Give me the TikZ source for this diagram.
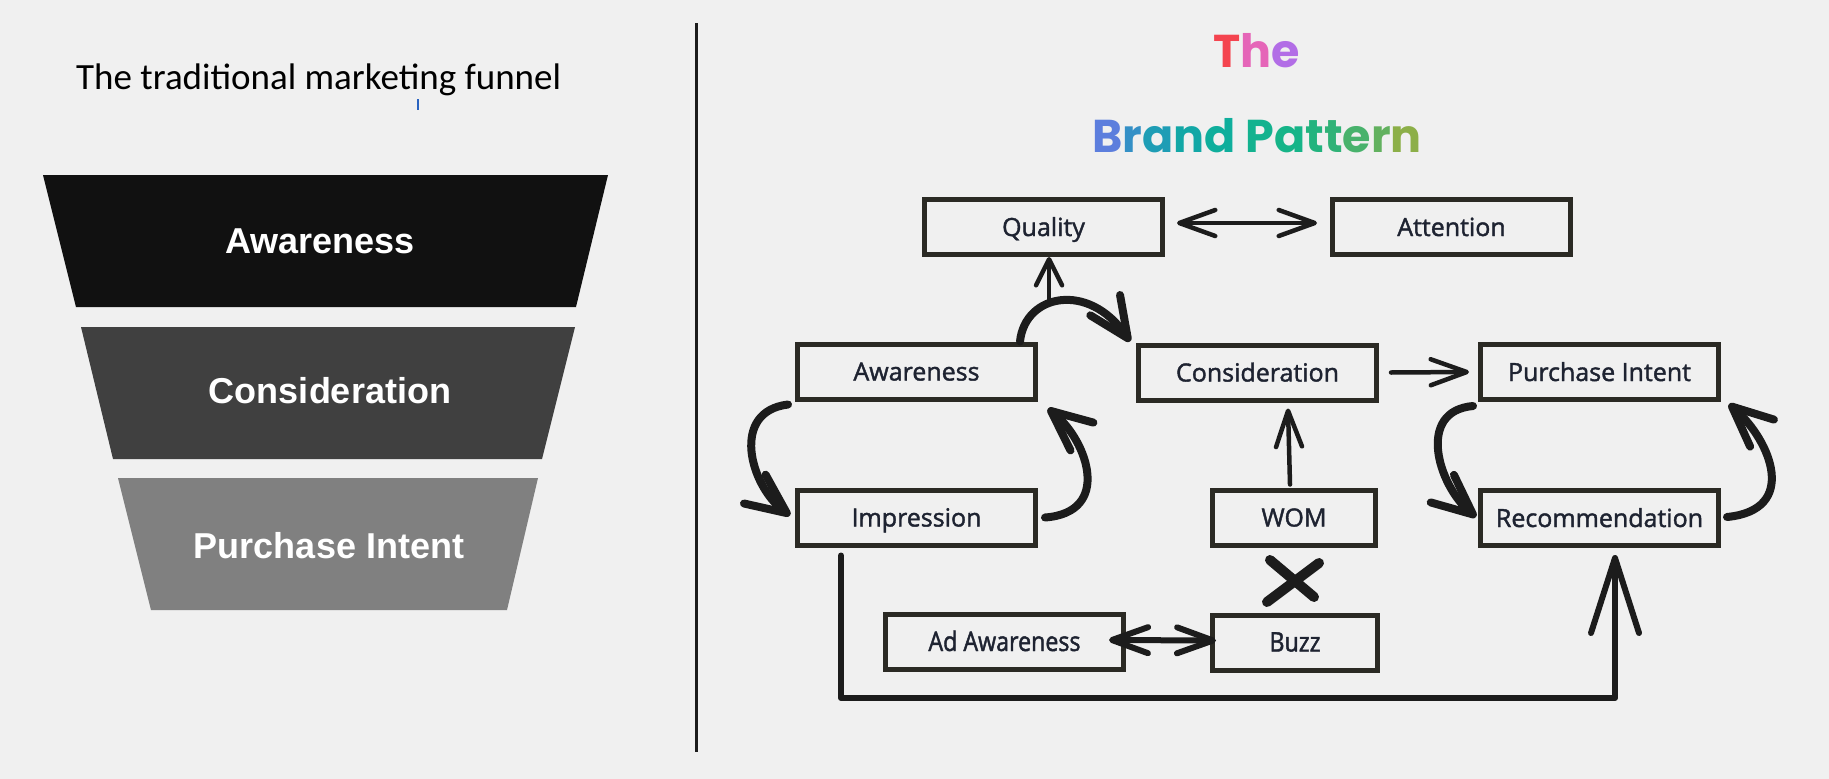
\documentclass[tikz,border=0pt]{standalone}
\usepackage{fontspec}
\usetikzlibrary{arrows.meta,calc}

\newfontfamily\funnelhead{Carlito}
\newfontfamily\funnellbl{Liberation Sans}
\newfontfamily\brandfont{Poppins}
\newfontfamily\boxfont{Open Sans}[FakeBold=1.6]
\newfontfamily\narrowbox{Open Sans}[FakeStretch=0.86,FakeBold=1.6]

\definecolor{paper}{HTML}{F0F0F0}
\definecolor{ink}{HTML}{1C1C1C}
\definecolor{boxline}{HTML}{2B2A24}
\definecolor{lbl}{HTML}{1E2331}
\definecolor{tierA}{HTML}{111111}
\definecolor{tierB}{HTML}{404040}
\definecolor{tierC}{HTML}{808080}
\definecolor{cursor}{HTML}{2A63C0}
% letter colours of the heading
\definecolor{tA}{HTML}{F4444F}
\definecolor{tB}{HTML}{E565B8}
\definecolor{tC}{HTML}{B26DE6}
\definecolor{bA}{HTML}{5C7EDD}
\definecolor{bB}{HTML}{3490C6}
\definecolor{bC}{HTML}{1E9DB5}
\definecolor{bD}{HTML}{12A7A6}
\definecolor{bE}{HTML}{0FAE9C}
\definecolor{bF}{HTML}{13B28F}
\definecolor{bG}{HTML}{16B488}
\definecolor{bH}{HTML}{22B37E}
\definecolor{bI}{HTML}{30B277}
\definecolor{bJ}{HTML}{48B26C}
\definecolor{bK}{HTML}{62B15F}
\definecolor{bL}{HTML}{8CAF48}

\tikzset{
  smallV/.tip={Straight Barb[length=36pt,width=26pt,round]},
  curlV/.tip={Straight Barb[length=40pt,width=36pt,round]},
  routeV/.tip={Straight Barb[length=75pt,width=48pt,round]},
  stage/.style={draw=boxline, line width=5pt, minimum width=238pt, minimum height=55pt,
    inner sep=0pt, text=lbl, text height=18pt, text depth=0pt,
    font={\boxfont\fontsize{25pt}{30pt}\selectfont}},
  narrowstage/.style={stage, font={\narrowbox\fontsize{27pt}{30pt}\selectfont}},
  tier/.style={text=white, text height=26pt, text depth=0pt,
    font={\funnellbl\bfseries\fontsize{36pt}{40pt}\selectfont}},
  flow/.style={draw=ink, line width=4.5pt, line cap=round, line join=round},
  curl/.style={draw=ink, line width=8pt, line cap=round, -{curlV}},
  route/.style={draw=ink, line width=6pt, line cap=round, line join=round, -{routeV}},
  cross/.style={draw=ink, line width=10pt, line cap=round},
}

\begin{document}
\begin{tikzpicture}[x=1pt,y=-1pt]
\fill[paper] (0,0) rectangle (1829,779);
\useasboundingbox (0,0) rectangle (1829,779);

% ---------- left half: the classic funnel ----------
\node[anchor=base west, inner sep=0pt, text=black,
      font={\funnelhead\fontsize{37pt}{40pt}\selectfont}] (funneltitle) at (76,89)
      {The traditional marketing funnel};
\draw[cursor, line width=1.5pt] (418,99) -- (418,110);

\fill[tierA] (43,175) -- (608,175) -- (576,307) -- (76,307) -- cycle;
\fill[tierB] (81,327) -- (575,327) -- (542,459) -- (113,459) -- cycle;
\fill[tierC] (118,478) -- (538,478) -- (507,610) -- (151,610) -- cycle;
\node[tier] (tierAware) at (320,240) {Awareness};
\node[tier] (tierConsider) at (330,390) {Consideration};
\node[tier] (tierIntent) at (329,545) {Purchase Intent};

% divider
\draw[ink, line width=3pt] (696,23) -- (696,752);

% ---------- right half: the brand pattern ----------
\node[anchor=base, inner sep=0pt, font={\brandfont\bfseries\fontsize{46pt}{50pt}\selectfont}]
  (headA) at (1257,67)
  {\textcolor{tA}{T}\textcolor{tB}{h}\textcolor{tC}{e}};
\node[anchor=base, inner sep=0pt, font={\brandfont\bfseries\fontsize{46pt}{50pt}\selectfont}]
  (headB) at (1257,152)
  {\textcolor{bA}{B}\textcolor{bB}{r}\textcolor{bC}{a}\textcolor{bD}{n}\textcolor{bE}{d}
   \textcolor{bF}{P}\textcolor{bG}{a}\textcolor{bH}{t}\textcolor{bI}{t}\textcolor{bJ}{e}\textcolor{bK}{r}\textcolor{bL}{n}};

\node[stage] (quality) at (1043.5,227) {Quality};
\node[stage] (attention) at (1451.5,227) {Attention};
\node[stage] (awareness) at (916.5,371.5) {Awareness};
\node[stage] (impression) at (916.5,517.5) {Impression};
\node[stage] (consideration) at (1257.5,372.5) {Consideration};
\node[stage] (purchase) at (1599.5,372) {Purchase Intent};
\node[stage] (recommendation) at (1599.5,518) {Recommendation};
\node[stage, minimum width=163pt] (wom) at (1294,517.5) {WOM};
\node[narrowstage] (adaw) at (1004.5,642) {Ad Awareness};
\node[narrowstage, minimum width=165pt] (buzz) at (1295,642.5) {Buzz};

% straight connectors
\draw[flow, {smallV}-{smallV}] ($(quality.east)+(12,-4)$) -- ($(attention.west)+(-13,-4)$);
\draw[flow, -{smallV}] ($(consideration.east)+(12,0)$) -- ($(purchase.west)+(-9,0)$);
\draw[flow, -{smallV}] ($(wom.north)+(-4,-3)$) -- ($(wom.north |- consideration.south)+(-6,6)$);
\draw[flow, line width=6pt, {smallV}-{smallV}] ($(adaw.east)+(-17,-2)$) -- ($(buzz.west)+(6,-2)$);

% loops between paired stages
\draw[curl] ($(awareness.south west)+(-7,3)$)
  .. controls ($(awareness.south west)+(-65,10)$) and ($(impression.west)+(-45,-32)$)
  .. ($(impression.west)+(-5,-2)$);
\draw[curl] ($(impression.east)+(7,0)$)
  .. controls ($(impression.east)+(74,-5)$) and ($(awareness.south east)+(50,40)$)
  .. ($(awareness.south east)+(10,7)$);
\draw[curl] ($(purchase.south west)+(-5,4)$)
  .. controls ($(purchase.south west)+(-62,9)$) and ($(recommendation.west)+(-40,-33)$)
  .. ($(recommendation.west)+(-2,-1)$);
\draw[curl] ($(recommendation.east)+(6,-1)$)
  .. controls ($(recommendation.east)+(78,-8)$) and ($(purchase.south east)+(50,39)$)
  .. ($(purchase.south east)+(8,2)$);

% arc from Awareness over to Consideration, branching up to Quality
\draw[curl] ($(awareness.north east)+(-18,0)$)
  .. controls ($(awareness.north east)+(-13,-48)$) and ($(consideration.north west)+(-47,-61)$)
  .. ($(consideration.north west)+(-6,-1)$) coordinate[pos=0.4] (crest);
\draw[flow, -{Straight Barb[length=26pt,width=26pt,round]}] (crest) -- (crest |- quality.south);

% blocked link between Buzz and WOM
\draw[cross] (1270,560) -- (1314,597);
\draw[cross] (1319,563) -- (1267,602);

% long route from Impression round to Recommendation
\coordinate (loopL) at (841,698);
\coordinate (loopR) at (1615,698);
\draw[route] ($(impression.south west)+(46,8)$) -- (loopL) -- (loopR)
  -- ($(recommendation.south)+(15.5,7)$);
\end{tikzpicture}
\end{document}
